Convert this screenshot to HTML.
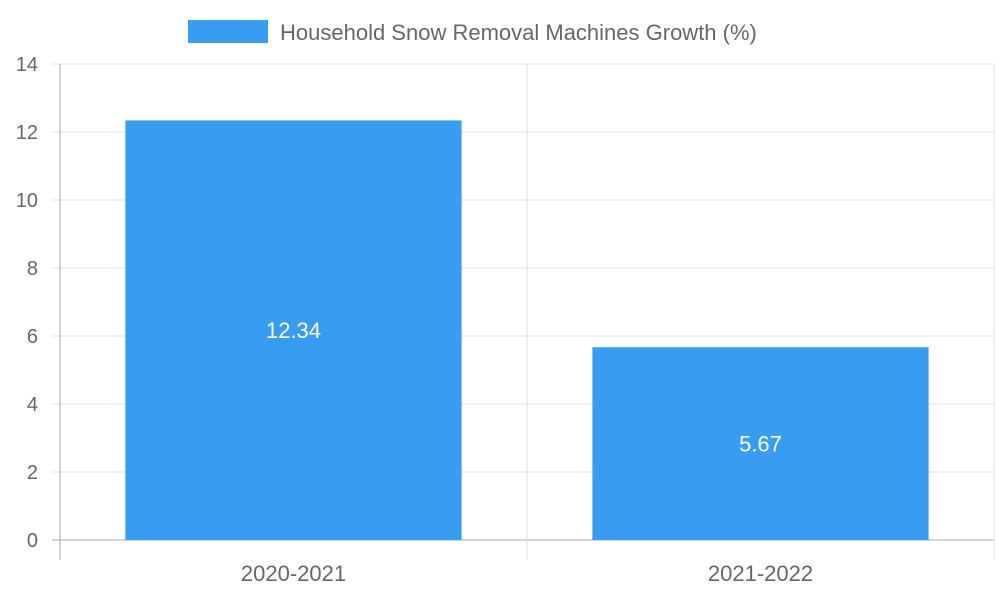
<!DOCTYPE html>
<html><head><meta charset="utf-8"><style>
body{margin:0;background:#fff;}
svg{display:block;font-family:"Liberation Sans",sans-serif;}
</style></head><body>
<svg id="chart" width="1000" height="600">
<g id="grid"></g>
<g id="bars"></g>
<g id="axes"></g>
<g>
<rect x="188" y="20" width="80" height="23" fill="#389cf0"/>
<text x="280" y="40" font-size="22" fill="#666">Household Snow Removal Machines Growth (%)</text>
</g>
</svg>
<script>
const categories=["2020-2021","2021-2022"];
const values=[12.34,5.67];
const yTicks=[0,2,4,6,8,10,12,14];
const L=60,R=994,T=64,B=540,yMax=14;
const y=v=>B-(v/yMax)*(B-T);
const cw=(R-L)/categories.length;
const x=i=>L+i*cw;
const NS="http://www.w3.org/2000/svg";
function mk(tag,attrs,parent){const e=document.createElementNS(NS,tag);for(const k in attrs)e.setAttribute(k,attrs[k]);parent.appendChild(e);return e;}
const grid=document.getElementById('grid'),bars=document.getElementById('bars'),axes=document.getElementById('axes');
yTicks.forEach(t=>{
 const l=mk('line',{x1:52,x2:R,y1:y(t),y2:y(t),stroke:t===0?'#aaa':'#e0e0e0','stroke-width':1},grid);
 
 
 const tx=mk('text',{x:38,y:y(t)+7,'text-anchor':'end','font-size':20,fill:'#666'},axes);
 tx.textContent=t;
 
 
});
for(let i=0;i<=categories.length;i++){
 const l=mk('line',{x1:x(i),x2:x(i),y1:T,y2:560,stroke:i===0?'#aaa':'#e0e0e0','stroke-width':1},grid);
 
 
}
categories.forEach((c,i)=>{
 const bw=cw*0.72,bx=x(i)+(cw-bw)/2;
 const r=mk('rect',{x:bx,y:y(values[i]),width:bw,height:B-y(values[i]),fill:'#389cf0'},bars);
 
 
 const v=mk('text',{x:bx+bw/2,y:(y(values[i])+B)/2+8,'text-anchor':'middle','font-size':22,fill:'#fff'},bars);
 v.textContent=values[i];
 
 
 const t=mk('text',{x:x(i)+cw/2,y:581,'text-anchor':'middle','font-size':22,fill:'#666'},axes);
 t.textContent=c;
 
 
});
</script>
</body></html>
